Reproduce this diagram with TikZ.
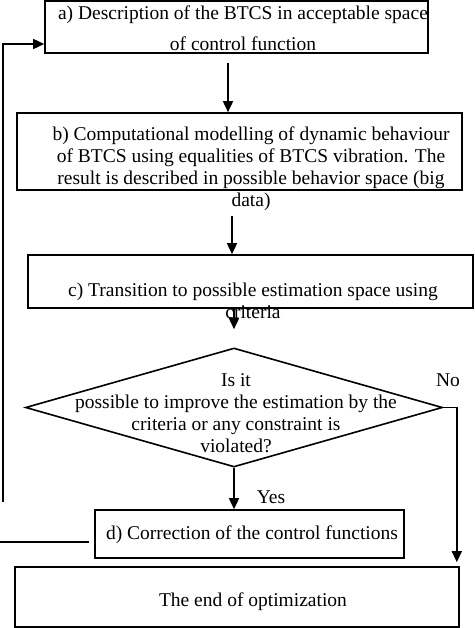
\documentclass[tikz,border=0pt]{standalone}
\usepackage{fontspec}
\setmainfont{Liberation Serif}
\usetikzlibrary{arrows.meta,shapes.geometric,calc}

\begin{document}
\begin{tikzpicture}[
    x=1pt, y=-1pt,
    box/.style={rectangle, draw, line width=1.6pt, inner sep=0pt},
    decision/.style={diamond, draw, line width=1.6pt, inner sep=0pt},
    txt/.style={font=\fontsize{19.5}{22}\selectfont, align=center, inner sep=0pt},
    arrow/.style={line width=1.6pt, -{Triangle[length=11pt,width=10pt]}},
    plain/.style={line width=1.6pt}
]
\useasboundingbox (0,0) rectangle (474,628);

% --- BOXES ---
\node (a)   [box, minimum width=383pt, minimum height=52pt] at (236.5,27) {};
\node (b)   [box, minimum width=445pt, minimum height=77pt] at (239.5,151.5) {};
\node (c)   [box, minimum width=445pt, minimum height=53pt] at (250.5,281.5) {};
\node (dia) [decision, minimum width=417pt, minimum height=119pt] at (234,407.5) {};
\node (d)   [box, minimum width=309pt, minimum height=48pt] at (249.5,534) {};
\node (end) [box, minimum width=444pt, minimum height=60pt] at (237,597) {};

% --- TEXTS ---
\node (atext) [txt, font=\fontsize{19.5}{31}\selectfont] at (243,28.5)
    {a) Description of the BTCS in acceptable space\\of control function};
\node (btext) [txt] at (251,168.5)
    {b) Computational modelling of dynamic behaviour\\of BTCS using equalities of BTCS vibration. The\\result is described in possible behavior space (big\\data)};
\node (ctext) [txt] at (253,301)
    {c) Transition to possible estimation space using\\criteria};
\node (diatext) [txt] at (236,413.5)
    {Is it\\possible to improve the estimation by the\\criteria or any constraint is\\violated?};
\node (dtext) [txt] at (252,535) {d) Correction of the control functions};
\node (endtext) [txt] at (253,602) {The end of optimization};
\node (yes) [txt] at (271,497) {Yes};
\node (no)  [txt] at (448,380) {No};

% --- PATHS ---
\draw [arrow] ([xshift=-8.5pt,yshift=-9pt]a.south) -- ([xshift=-11.5pt]b.north);
\draw [arrow] ([xshift=-7.5pt,yshift=-25pt]b.south) -- ([xshift=-18.5pt]c.north);
\draw [arrow] ([xshift=-16.5pt]c.south) -- ([yshift=18pt]dia.north);
\draw [arrow] (dia.south) -- ([xshift=-15.5pt]d.north);
\draw [arrow] (dia.east) -| ([xshift=-3pt,yshift=4pt]end.north east);

% Feedback loop back to a)
\coordinate (loopend) at (0,542);
\coordinate (loopstart) at (3,502);
\draw [plain] ([xshift=-5pt,yshift=-8pt]d.west) -- (loopend);
\draw [arrow] (loopstart) |- ([yshift=-17pt]a.west);

\end{tikzpicture}
\end{document}
